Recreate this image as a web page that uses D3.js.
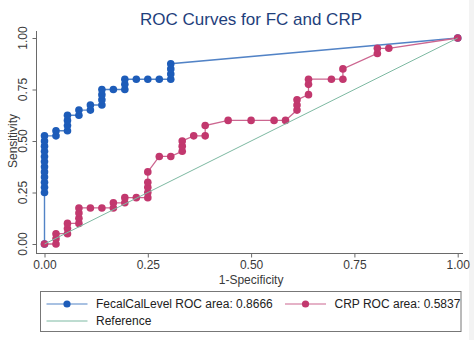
<!DOCTYPE html>
<html>
<head>
<meta charset="utf-8">
<script src="https://cdn.jsdelivr.net/npm/d3@7"></script>
<style>
  body { margin: 0; background: #fff; }
  text { font-family: "Liberation Sans", Arial, Helvetica, sans-serif; }
</style>
</head>
<body>
<svg id="chart" width="474" height="340"></svg>
<script>
// Axis ticks shared by both axes
const tickValues = [0, 0.25, 0.5, 0.75, 1];

// Fecal calprotectin ROC points (1 - specificity, sensitivity)
const fcFpr = [0,
  0, 0, 0, 0, 0, 0, 0, 0, 0, 0, 0, 0,
  0.0278, 0.0278,
  0.0556, 0.0556, 0.0556, 0.0556,
  0.0833, 0.0833,
  0.1111, 0.1111,
  0.1389, 0.1389, 0.1389, 0.1389,
  0.1667,
  0.1944, 0.1944, 0.1944,
  0.2222, 0.25, 0.2778,
  0.3056, 0.3056, 0.3056, 0.3056,
  1];
const fcSens = [0,
  0.25, 0.275, 0.3, 0.325, 0.35, 0.375, 0.4, 0.425, 0.45, 0.475, 0.5, 0.525,
  0.525, 0.55,
  0.55, 0.575, 0.6, 0.625,
  0.625, 0.65,
  0.65, 0.675,
  0.675, 0.7, 0.725, 0.75,
  0.75,
  0.75, 0.775, 0.8,
  0.8, 0.8, 0.8,
  0.8, 0.825, 0.85, 0.875,
  1];

// CRP ROC points (1 - specificity, sensitivity)
const crpFpr = [0,
  0.0278, 0.0278, 0.0278,
  0.0556, 0.0556, 0.0556,
  0.0833, 0.0833, 0.0833, 0.0833,
  0.1111, 0.1389,
  0.1667, 0.1667,
  0.1944, 0.1944,
  0.2222,
  0.25, 0.25, 0.25, 0.25, 0.25,
  0.2778, 0.3056,
  0.3333, 0.3333, 0.3333,
  0.3611,
  0.3889, 0.3889,
  0.4444, 0.5, 0.5556, 0.5833,
  0.6111, 0.6111, 0.6111,
  0.6389, 0.6389, 0.6389,
  0.6944,
  0.7222, 0.7222,
  0.8056, 0.8056,
  0.8333,
  1];
const crpSens = [0,
  0, 0.025, 0.05,
  0.05, 0.075, 0.1,
  0.1, 0.125, 0.15, 0.175,
  0.175, 0.175,
  0.175, 0.2,
  0.2, 0.225,
  0.225,
  0.225, 0.25, 0.275, 0.3, 0.35,
  0.425, 0.425,
  0.45, 0.475, 0.5,
  0.525,
  0.525, 0.575,
  0.6, 0.6, 0.6, 0.6,
  0.65, 0.675, 0.7,
  0.725, 0.775, 0.8,
  0.8,
  0.8, 0.85,
  0.925, 0.95,
  0.95,
  1];

// Diagonal chance line
const refFpr = [0, 1];
const refSens = [0, 1];

const titleText = "ROC Curves for FC and CRP";
const xTitle = "1-Specificity";
const yTitle = "Sensitivity";
const legendLabels = ["FecalCalLevel ROC area: 0.8666", "CRP ROC area: 0.5837", "Reference"];

const colors = {
  fcDot: "#1d5cb9", fcLine: "#5283c6",
  crpDot: "#c2386e", crpLine: "#cc6690",
  ref: "#7db9a2",
  axis: "#6a6a6a", text: "#3a3a3a", title: "#1f3f7c"
};

const svg = d3.select("#chart");
svg.append("rect").attr("width", 474).attr("height", 340).attr("fill", "#fff");
svg.append("rect").attr("x", 469).attr("width", 5).attr("height", 340).attr("fill", "#f3f3f3");

const x = d3.scaleLinear().domain([0, 1]).range([44.5, 457.7]);
const y = d3.scaleLinear().domain([0, 1]).range([244, 38]);

const zip = (a, b) => a.map((v, i) => [v, b[i]]);
const fcPts = zip(fcFpr, fcSens);
const crpPts = zip(crpFpr, crpSens);
const refPts = zip(refFpr, refSens);

// Title
svg.append("text")
  .attr("x", 251).attr("y", 25)
  .attr("text-anchor", "middle")
  .attr("font-size", 17)
  .attr("fill", colors.title)
  .text(titleText);

// X axis
const xAxis = svg.append("g")
  .attr("transform", "translate(0,253.5)")
  .call(d3.axisBottom(x).tickValues(tickValues).tickSize(4).tickFormat(d3.format(".2f")));
xAxis.select(".domain").remove();
xAxis.selectAll(".tick line").attr("stroke", colors.axis);
xAxis.selectAll(".tick text")
  .attr("font-size", 12).attr("fill", colors.text)
  .attr("font-family", "Liberation Sans, Arial, sans-serif")
  .attr("y", 7).attr("dy", "0.71em");
xAxis.append("line")
  .attr("x1", 36).attr("x2", 463).attr("y1", 0).attr("y2", 0)
  .attr("stroke", colors.axis);

// Y axis with rotated tick labels
const yAxis = svg.append("g")
  .attr("transform", "translate(36.5,0)")
  .call(d3.axisLeft(y).tickValues(tickValues).tickSize(4).tickFormat(""));
yAxis.select(".domain").remove();
yAxis.selectAll(".tick line").attr("stroke", colors.axis);
yAxis.append("line")
  .attr("x1", 0).attr("x2", 0).attr("y1", 31).attr("y2", 253.5)
  .attr("stroke", colors.axis);
svg.append("g").selectAll("text")
  .data(tickValues)
  .join("text")
  .attr("transform", d => `translate(23,${y(d)}) rotate(-90)`)
  .attr("text-anchor", "middle")
  .attr("dy", "0.36em")
  .attr("font-size", 12)
  .attr("fill", colors.text)
  .text(d3.format(".2f"));

// Axis titles
svg.append("text")
  .attr("x", x(0.5)).attr("y", 283.5)
  .attr("text-anchor", "middle")
  .attr("font-size", 12).attr("fill", colors.text)
  .text(xTitle);
svg.append("text")
  .attr("transform", `translate(13,${y(0.5)}) rotate(-90)`)
  .attr("text-anchor", "middle").attr("dy", "0.36em")
  .attr("font-size", 12).attr("fill", colors.text)
  .text(yTitle);

const line = d3.line().x(d => x(d[0])).y(d => y(d[1]));

// FC curve
svg.append("path").datum(fcPts)
  .attr("d", line).attr("fill", "none")
  .attr("stroke", colors.fcLine).attr("stroke-width", 1.4);
svg.append("g").selectAll("circle").data(fcPts).join("circle")
  .attr("cx", d => x(d[0])).attr("cy", d => y(d[1]))
  .attr("r", 3.8).attr("fill", colors.fcDot);

// CRP curve
svg.append("path").datum(crpPts)
  .attr("d", line).attr("fill", "none")
  .attr("stroke", colors.crpLine).attr("stroke-width", 1.3);
svg.append("g").selectAll("circle").data(crpPts).join("circle")
  .attr("cx", d => x(d[0])).attr("cy", d => y(d[1]))
  .attr("r", 3.8).attr("fill", colors.crpDot);

// Reference line
svg.append("path").datum(refPts)
  .attr("d", line).attr("fill", "none")
  .attr("stroke", colors.ref).attr("stroke-width", 1);

// Legend
const legend = svg.append("g");
legend.append("rect")
  .attr("x", 40.5).attr("y", 291.5).attr("width", 420.5).attr("height", 40)
  .attr("fill", "#fff").attr("stroke", "#777").attr("stroke-width", 1);

const legendItems = [
  { label: legendLabels[0], lx: 46.5, rowY: 304, stroke: colors.fcLine, dot: colors.fcDot },
  { label: legendLabels[1], lx: 285, rowY: 304, stroke: colors.crpLine, dot: colors.crpDot },
  { label: legendLabels[2], lx: 46.5, rowY: 321, stroke: colors.ref, dot: null }
];
legendItems.forEach(it => {
  legend.append("line")
    .attr("x1", it.lx).attr("x2", it.lx + 41)
    .attr("y1", it.rowY).attr("y2", it.rowY)
    .attr("stroke", it.stroke).attr("stroke-width", it.dot ? 1.2 : 1);
  if (it.dot) {
    legend.append("circle")
      .attr("cx", it.lx + 20.5).attr("cy", it.rowY).attr("r", 3.6)
      .attr("fill", it.dot);
  }
  legend.append("text")
    .attr("x", it.lx + 49.5).attr("y", it.rowY).attr("dy", "0.36em")
    .attr("font-size", 12).attr("fill", "#222")
    .text(it.label);
});
</script>
</body>
</html>
